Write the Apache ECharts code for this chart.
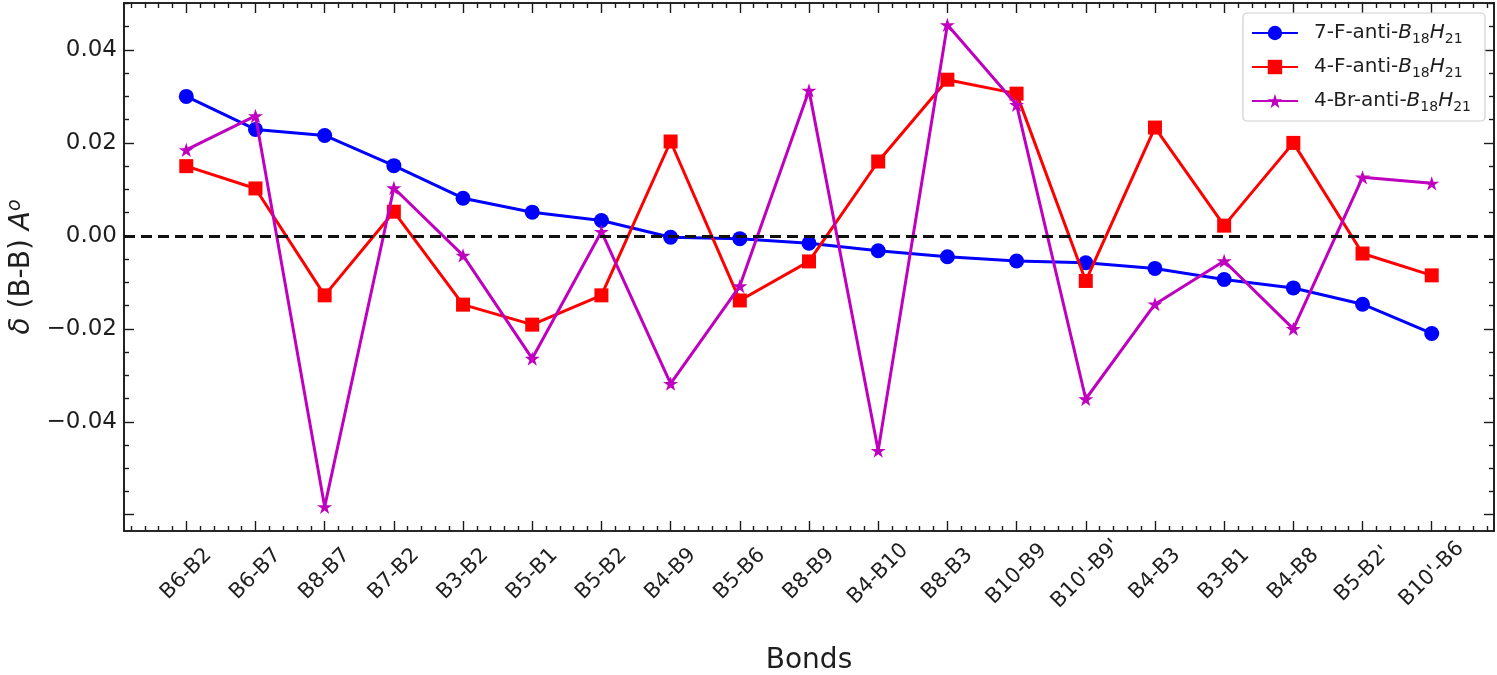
<!DOCTYPE html>
<html>
<head>
<meta charset="utf-8">
<script src="https://cdn.jsdelivr.net/npm/echarts@6/dist/echarts.min.js"></script>
<style>html,body{margin:0;padding:0;background:#fff;}#c{width:1497px;height:675px;}</style>
</head>
<body>
<div id="c"></div>
<script>
const categories = ['B6-B2','B6-B7','B8-B7','B7-B2','B3-B2','B5-B1','B5-B2','B4-B9','B5-B6','B8-B9','B4-B10','B8-B3','B10-B9',"B10'-B9'",'B4-B3','B3-B1','B4-B8',"B5-B2'","B10'-B6"];
const f7anti = [0.0300,0.0229,0.0216,0.0151,0.0081,0.0051,0.0033,-0.0003,-0.0006,-0.0016,-0.0032,-0.0045,-0.0054,-0.0058,-0.0070,-0.0094,-0.0112,-0.0147,-0.0210];
const f4anti = [0.0150,0.0102,-0.0128,0.0052,-0.0148,-0.0191,-0.0128,0.0203,-0.0139,-0.0055,0.0160,0.0336,0.0306,-0.0097,0.0233,0.0022,0.0200,-0.0038,-0.0085];
const br4anti = [0.0185,0.0258,-0.0583,0.0103,-0.0042,-0.0264,0.0009,-0.0318,-0.0108,0.0313,-0.0462,0.0454,0.0282,-0.0351,-0.0147,-0.0054,-0.0200,0.0126,0.0113];
const yMajorTicks = [-0.06,-0.04,-0.02,0,0.02,0.04];
const yTickLabels = [-0.04,-0.02,0,0.02,0.04];
const seriesNames = ['7-F-anti-{i|B}{sub|18}{i|H}{sub|21}','4-F-anti-{i|B}{sub|18}{i|H}{sub|21}','4-Br-anti-{i|B}{sub|18}{i|H}{sub|21}'];

const X_MIN = -0.9, X_MAX = 18.9, Y_MIN = -0.0635, Y_MAX = 0.0501;
const xMajor = categories.map((c,i)=>i);
const xMinor = [];
for (let k = -4; k <= 94; k++) { if (k % 5 !== 0) xMinor.push(Math.round(k*0.2*10)/10); }
const yMinor = [];
for (let k = -12; k <= 10; k++) { if (k % 4 !== 0) yMinor.push(Math.round(k*0.005*10000)/10000); }

const FONT = 'DejaVu Sans';
const AX = '#1a1a1a';
const TXT = '#1e1e1e';
const star = 'path://M50,0 L61.2,34.5 L97.6,34.5 L68.2,55.9 L79.4,90.5 L50,69.1 L20.6,90.5 L31.8,55.9 L2.4,34.5 L38.8,34.5 Z';
const toPts = arr => arr.map((v,i)=>[i,v]);

function fmtY(v){
  if (Math.abs(v) < 1e-9) return '0.00';
  const s = Math.abs(v).toFixed(2);
  return (v < 0 ? '\u2212' : '') + s;
}

function xAx(pos, ticks, len, labels){
  return {
    type:'value', position:pos, min:X_MIN, max:X_MAX, gridIndex:0,
    axisLine:{show:true, onZero:false, lineStyle:{color:AX, width:1.6}},
    axisTick:{show:true, inside:true, length:len, customValues:ticks, lineStyle:{color:AX, width:1.4}},
    axisLabel: labels ? {show:true, customValues:xMajor, formatter:v=>categories[Math.round(v)],
      rotate:45, align:'center', verticalAlign:'middle', margin:43, fontSize:21, fontFamily:FONT, color:TXT} : {show:false},
    splitLine:{show:false}
  };
}
function yAx(pos, ticks, len, labels){
  return {
    type:'value', position:pos, min:Y_MIN, max:Y_MAX, gridIndex:0,
    axisLine:{show:true, onZero:false, lineStyle:{color:AX, width:1.6}},
    axisTick:{show:true, inside:true, length:len, customValues:ticks, lineStyle:{color:AX, width:1.4}},
    axisLabel: labels ? {show:true, customValues:yTickLabels, formatter:fmtY, margin:7, fontSize:23, fontFamily:FONT, color:TXT} : {show:false},
    splitLine:{show:false}
  };
}

const xAxes = [xAx('bottom', xMajor, 10, true), xAx('bottom', xMinor, 5, false), xAx('top', xMajor, 10, false), xAx('top', xMinor, 5, false)];
xAxes[0].name = 'Bonds';
xAxes[0].nameLocation = 'middle';
xAxes[0].nameGap = 116;
xAxes[0].nameTextStyle = {fontSize:28, fontFamily:FONT, color:TXT};
const yAxes = [yAx('left', yMajorTicks, 10, true), yAx('left', yMinor, 5, false), yAx('right', yMajorTicks, 10, false), yAx('right', yMinor, 5, false)];
yAxes[0].name = '{i|\u03b4} (B-B) {i|A}{sup|o}';
yAxes[0].nameLocation = 'middle';
yAxes[0].nameRotate = 90;
yAxes[0].nameGap = 84;
yAxes[0].nameTextStyle = {fontSize:28, fontFamily:FONT, color:TXT,
  rich:{i:{fontSize:28, fontStyle:'italic', fontFamily:FONT, color:TXT},
        sup:{fontSize:19, fontStyle:'italic', fontFamily:FONT, color:TXT, verticalAlign:'top', padding:[0,0,14,0]}}};

const chart = echarts.init(document.getElementById('c'), null, {renderer:'canvas'});
chart.setOption({
  animation:false,
  backgroundColor:'#fff',
  grid:{left:124, right:3, top:3, bottom:144, containLabel:false, outerBoundsMode:'none'},
  xAxis: xAxes,
  yAxis: yAxes,
  legend:{
    right:12, top:13, orient:'vertical', itemWidth:46, itemHeight:18, itemGap:8,
    padding:[7,14,7,8],
    backgroundColor:'rgba(255,255,255,0.85)', borderColor:'#d0d0d0', borderWidth:1.2, borderRadius:4,
    formatter: name => name,
    textStyle:{fontSize:20, fontFamily:FONT, color:TXT, lineHeight:26, padding:[0,0,0,11],
      rich:{i:{fontSize:20, fontStyle:'italic', fontFamily:FONT, color:TXT, lineHeight:26},
            sub:{fontSize:14, fontFamily:FONT, color:TXT, verticalAlign:'bottom', lineHeight:20, padding:[8,0,0,0]}}}
  },
  series:[
    {name:seriesNames[0], type:'line', data:toPts(f7anti), color:'#0000ff', symbol:'circle', symbolSize:15,
     lineStyle:{width:3, color:'#0000ff'}, itemStyle:{color:'#0000ff'}, z:2},
    {name:seriesNames[1], type:'line', data:toPts(f4anti), color:'#ff0000', symbol:'rect', symbolSize:14,
     lineStyle:{width:3, color:'#ff0000'}, itemStyle:{color:'#ff0000'}, z:3},
    {name:seriesNames[2], type:'line', data:toPts(br4anti), color:'#bf00bf', symbol:star, symbolKeepAspect:true, symbolSize:15,
     lineStyle:{width:3, color:'#bf00bf'}, itemStyle:{color:'#bf00bf'}, z:4,
     markLine:{silent:true, symbol:['none','none'], label:{show:false},
       lineStyle:{type:[11,6], color:'#111', width:3}, data:[{yAxis:0}]}}
  ]
});
</script>
</body>
</html>
